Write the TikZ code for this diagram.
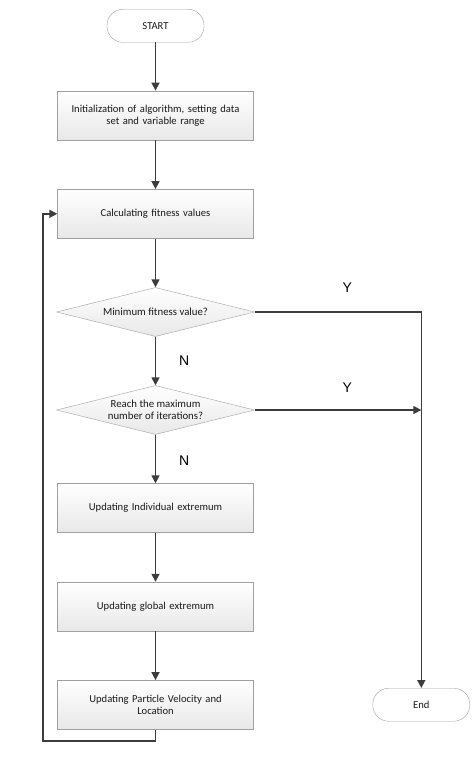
\documentclass[tikz,border=0pt]{standalone}
\usepackage{fontspec}
\setmainfont{Carlito}
\newfontfamily\yesnofont{Liberation Sans}
\usetikzlibrary{shapes.geometric,arrows.meta}
\definecolor{linegray}{RGB}{60,60,60}
\definecolor{edgegray}{RGB}{160,160,160}

\begin{document}
\begin{tikzpicture}[x=1pt,y=-1pt,
                    box/.style={rectangle,draw=edgegray,top color=white,bottom color=black!9,
                                minimum width=196pt,minimum height=49pt,inner sep=0pt,
                                text width=185pt,align=center,text=black!90,
                                font=\fontsize{10.6}{12}\selectfont},
                    decision/.style={diamond,draw=edgegray,top color=white,bottom color=black!9,
                                minimum width=198pt,minimum height=49pt,inner sep=0pt,
                                shape aspect=4,align=center,text=black!90,
                                font=\fontsize{10.8}{11.5}\selectfont},
                    terminal/.style={rectangle,rounded corners=16pt,draw=edgegray,fill=white,
                                minimum width=97pt,minimum height=33pt,inner sep=0pt,
                                text=black!90,font=\fontsize{10.6}{12}\selectfont},
                    yesno/.style={text=black,font=\yesnofont\fontsize{14}{16}\selectfont},
                    flow/.style={draw=linegray,line width=1.6pt,-{Triangle[length=8pt,width=8pt]}}]
    \useasboundingbox (0,0) rectangle (474,765);
    \node[terminal](start)at(155.5,25.8){START};
    \node[box](init)at(155.5,115.3){Initialization of algorithm, setting data\\set and variable range};
    \node[box](calc)at(155.5,213.8){Calculating fitness values};
    \node[decision](minfit)at(155.5,312){Minimum fitness value?};
    \node[decision](maxiter)at(155.5,410){Reach the maximum\\number of iterations?};
    \node[box](indiv)at(155.5,508){Updating Individual extremum};
    \node[box](global)at(155.5,606.5){Updating global extremum};
    \node[box](velo)at(155.5,704.8){Updating Particle Velocity and\\Location};
    \node[terminal](stop)at(421.3,704.7){End};
    \node[yesno](y1)at(347.3,287.7){Y};
    \node[yesno](y2)at(347.3,387.7){Y};
    \node[yesno](n1)at(184.3,361){N};
    \node[yesno](n2)at(184.3,460.3){N};
    \coordinate (loop) at (42.7,740.7);
    \draw[flow] (start) -- (init);
    \draw[flow] (init) -- (calc);
    \draw[flow] (calc) -- (minfit);
    \draw[flow] (minfit) -- (maxiter);
    \draw[flow] (maxiter) -- (indiv);
    \draw[flow] (indiv) -- (global);
    \draw[flow] (global) -- (velo);
    \draw[flow] (minfit.east) -| (stop.north);
    \draw[flow] (maxiter.east) -- (maxiter.east -| stop.north);
    \draw[flow] (velo.south) |- (loop) |- (calc.west);
\end{tikzpicture}
\end{document}
